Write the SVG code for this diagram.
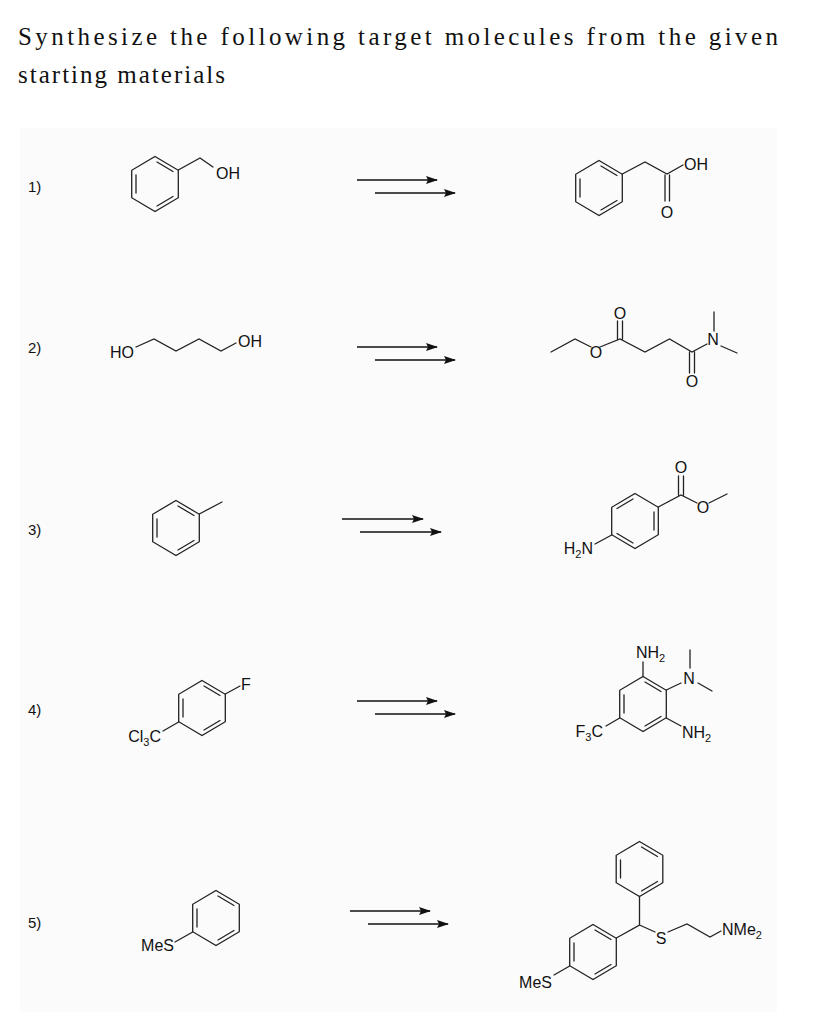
<svg xmlns="http://www.w3.org/2000/svg" xmlns:xlink="http://www.w3.org/1999/xlink" width="827" height="1024" viewBox="0 0 827 1024">
<style>
.b{fill:none;stroke:#222;stroke-width:1.3;stroke-linecap:round}
.a{fill:none;stroke:#111;stroke-width:1.6}
.t{font-family:"Liberation Sans",Arial,sans-serif;font-size:16px;fill:#111}
.s{font-size:11px}
.n{font-family:"Liberation Sans",Arial,sans-serif;font-size:15px;fill:#111}
.h{font-family:"Liberation Serif","Times New Roman",serif;font-size:25px;fill:#111}
</style>
<defs>
<marker id="ar" viewBox="0 0 12 8" refX="11" refY="4" markerWidth="12" markerHeight="8" markerUnits="userSpaceOnUse" orient="auto"><path d="M0,0 L12,4 L0,8 L2,4 Z" fill="#111"/></marker>
<g id="bzA" class="b"><polygon points="0,-27.5 23.3,-13.75 23.3,13.75 0,27.5 -23.3,13.75 -23.3,-13.75"/><path d="M2,-22 L18,-12.5 M18,12.5 L2,22 M-19,-9 L-19,9"/></g>
<g id="bzB" class="b"><polygon points="0,-27.5 23.3,-13.75 23.3,13.75 0,27.5 -23.3,13.75 -23.3,-13.75"/><path d="M-2,-22 L-18,-12.5 M19,-9 L19,9 M-2,22 L-18,12.5"/></g>
</defs>
<rect x="0" y="0" width="827" height="1024" fill="#fff"/>
<rect x="20" y="128" width="757" height="884" fill="#fbfbfb"/>
<text class="h" x="18" y="45" textLength="760" lengthAdjust="spacing">Synthesize the following target molecules from the given</text>
<text class="h" x="18" y="83" textLength="207" lengthAdjust="spacing">starting materials</text>
<g id="labels" class="n"><text x="28" y="192">1)</text><text x="28" y="353">2)</text><text x="28" y="535">3)</text><text x="28" y="715">4)</text><text x="28" y="928">5)</text></g>
<g id="connectors" class="a">
<path marker-end="url(#ar)" d="M357,180 H437"/><path marker-end="url(#ar)" d="M375,193 H455"/>
<path marker-end="url(#ar)" d="M357,347 H437"/><path marker-end="url(#ar)" d="M375,360 H455"/>
<path marker-end="url(#ar)" d="M342,519 H423"/><path marker-end="url(#ar)" d="M360,532 H441"/>
<path marker-end="url(#ar)" d="M357,701 H437"/><path marker-end="url(#ar)" d="M375,714 H455"/>
<path marker-end="url(#ar)" d="M350,911 H430"/><path marker-end="url(#ar)" d="M368,924 H448"/>
</g>
<g id="m1"><use xlink:href="#bzA" transform="translate(155,184)"/><path class="b" d="M178.3,170 L200,158 L213,167"/><text class="t" x="216" y="179">OH</text></g>
<g id="t1"><use xlink:href="#bzA" transform="translate(599,188)"/><path class="b" d="M622.3,174 L645,162 L667,174 L683,165 M665,175 V201 M669.5,175 V201"/><text class="t" x="684" y="170">OH</text><text class="t" x="667" y="218" text-anchor="middle">O</text></g>
<g id="m2"><text class="t" x="110" y="358">HO</text><path class="b" d="M136,347 L154,339 L176,351 L199,339 L221,351 L236,343"/><text class="t" x="238" y="347">OH</text></g>
<g id="t2"><path class="b" d="M551,352 L575,339 L591,347 M600,347 L620,339 L645,352 L669.5,339 L692,352 L707,344 M617.5,339 V321 M622.5,339 V321 M689.5,352 V373 M694.5,352 V373 M714,312 V331 M721,346 L737,353"/><text class="t" x="596" y="358" text-anchor="middle">O</text><text class="t" x="620" y="319" text-anchor="middle">O</text><text class="t" x="692" y="387" text-anchor="middle">O</text><text class="t" x="713" y="345" text-anchor="middle">N</text></g>
<g id="m3"><use xlink:href="#bzA" transform="translate(176,528)"/><path class="b" d="M199.3,514 L222,502"/></g>
<g id="t3"><use xlink:href="#bzB" transform="translate(635,521)"/><path class="b" d="M658.3,507 L681,495 L697,503 M678.5,495 V476 M683.5,495 V476 M709,503 L727,494 M611.7,535 L595,544"/><text class="t" x="681" y="473" text-anchor="middle">O</text><text class="t" x="703" y="513" text-anchor="middle">O</text><text class="t" x="593" y="554" text-anchor="end">H<tspan class="s" dy="4">2</tspan><tspan dy="-4">N</tspan></text></g>
<g id="m4"><use xlink:href="#bzA" transform="translate(202,708)"/><path class="b" d="M225.3,694 L240,686 M178.7,722 L163,731"/><text class="t" x="241" y="690">F</text><text class="t" x="161" y="742" text-anchor="end">Cl<tspan class="s" dy="4">3</tspan><tspan dy="-4">C</tspan></text></g>
<g id="t4"><use xlink:href="#bzA" transform="translate(643,704)"/><path class="b" d="M643,676.5 V662 M666.3,690 L681,683 M690,650 V668 M698,683 L712,691 M666.3,718 L681,726 M619.7,718 L606,726"/><text class="t" x="636" y="658">NH<tspan class="s" dy="4">2</tspan></text><text class="t" x="689" y="684" text-anchor="middle">N</text><text class="t" x="682" y="738">NH<tspan class="s" dy="4">2</tspan></text><text class="t" x="603" y="737" text-anchor="end">F<tspan class="s" dy="4">3</tspan><tspan dy="-4">C</tspan></text></g>
<g id="m5"><use xlink:href="#bzA" transform="translate(216,918)"/><path class="b" d="M192.7,932 L175,942"/><text class="t" x="174" y="951" text-anchor="end">MeS</text></g>
<g id="t5"><use xlink:href="#bzA" transform="translate(639.5,869)"/><use xlink:href="#bzA" transform="translate(593,952)"/><path class="b" d="M639.5,896.5 V925 L616.3,938 M639.5,925 L655,932 M668,932 L687,924 L710,937 L721,931 M569.7,966 L554,975"/><text class="t" x="661" y="944" text-anchor="middle">S</text><text class="t" x="722" y="935">NMe<tspan class="s" dy="4">2</tspan></text><text class="t" x="552" y="988" text-anchor="end">MeS</text></g>
</svg>
